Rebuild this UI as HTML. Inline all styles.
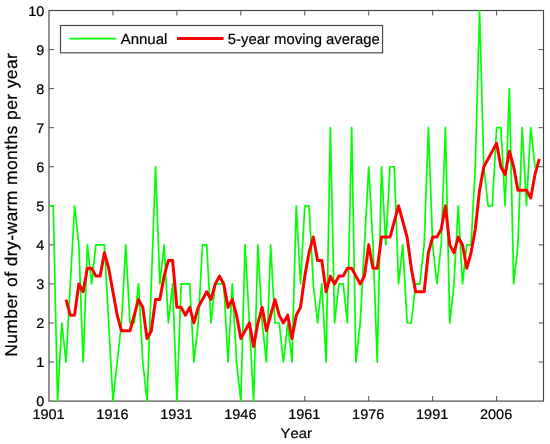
<!DOCTYPE html>
<html><head><meta charset="utf-8"><title>Dry-warm months per year</title>
<style>html,body{margin:0;padding:0;background:#fff}svg{display:block}text{font-family:"Liberation Sans",Arial,Helvetica,sans-serif;fill:#000;stroke:#000;stroke-width:0.2px;font-kerning:none;text-rendering:geometricPrecision}</style></head><body>
<svg width="550" height="444" viewBox="0 0 550 444">
<rect width="550" height="444" fill="#fff"/>
<g stroke="#444" stroke-width="1.15" fill="none">
<rect x="49.00" y="10.50" width="494.50" height="390.60"/>
<path stroke-width="1" stroke="#505050" d="M112.94 401.10v-5.00M112.94 10.50v5.00M176.89 401.10v-5.00M176.89 10.50v5.00M240.83 401.10v-5.00M240.83 10.50v5.00M304.78 401.10v-5.00M304.78 10.50v5.00M368.72 401.10v-5.00M368.72 10.50v5.00M432.66 401.10v-5.00M432.66 10.50v5.00M496.61 401.10v-5.00M496.61 10.50v5.00M49.00 362.04h5.00M543.50 362.04h-5.00M49.00 322.98h5.00M543.50 322.98h-5.00M49.00 283.92h5.00M543.50 283.92h-5.00M49.00 244.86h5.00M543.50 244.86h-5.00M49.00 205.80h5.00M543.50 205.80h-5.00M49.00 166.74h5.00M543.50 166.74h-5.00M49.00 127.68h5.00M543.50 127.68h-5.00M49.00 88.62h5.00M543.50 88.62h-5.00M49.00 49.56h5.00M543.50 49.56h-5.00"/>
</g>
<polyline points="49.00,205.80 53.26,205.80 57.53,401.10 61.79,322.98 66.05,362.04 70.31,283.92 74.58,205.80 78.84,244.86 83.10,362.04 87.37,244.86 91.63,283.92 95.89,244.86 100.16,244.86 104.42,244.86 108.68,322.98 112.94,401.10 117.21,362.04 121.47,322.98 125.73,244.86 130.00,322.98 134.26,322.98 138.52,283.92 142.78,362.04 147.05,401.10 151.31,283.92 155.57,166.74 159.84,283.92 164.10,244.86 168.36,322.98 172.62,283.92 176.89,401.10 181.15,283.92 185.41,283.92 189.68,283.92 193.94,362.04 198.20,322.98 202.47,244.86 206.73,244.86 210.99,322.98 215.25,283.92 219.52,283.92 223.78,283.92 228.04,362.04 232.31,283.92 236.57,362.04 240.83,401.10 245.09,244.86 249.36,322.98 253.62,401.10 257.88,244.86 262.15,322.98 266.41,362.04 270.67,244.86 274.94,322.98 279.20,322.98 283.46,362.04 287.72,322.98 291.99,362.04 296.25,205.80 300.51,283.92 304.78,205.80 309.04,205.80 313.30,283.92 317.56,322.98 321.83,283.92 326.09,362.04 330.35,127.68 334.62,322.98 338.88,283.92 343.14,283.92 347.41,322.98 351.67,127.68 355.93,362.04 360.19,322.98 364.46,244.86 368.72,166.74 372.98,244.86 377.25,362.04 381.51,166.74 385.77,244.86 390.03,166.74 394.30,166.74 398.56,283.92 402.82,244.86 407.09,322.98 411.35,322.98 415.61,283.92 419.88,283.92 424.14,244.86 428.40,127.68 432.66,244.86 436.93,283.92 441.19,244.86 445.45,127.68 449.72,322.98 453.98,283.92 458.24,205.80 462.50,283.92 466.77,244.86 471.03,244.86 475.29,166.74 479.56,10.50 483.82,166.74 488.08,205.80 492.34,205.80 496.61,127.68 500.87,127.68 505.13,205.80 509.40,88.62 513.66,283.92 517.92,244.86 522.19,127.68 526.45,205.80 530.71,127.68 534.97,166.74 539.24,166.74" fill="none" stroke="#00ff00" stroke-width="1.7" stroke-linejoin="round"/>
<polyline points="66.05,299.54 70.31,315.17 74.58,315.17 78.84,283.92 83.10,291.73 87.37,268.30 91.63,268.30 95.89,276.11 100.16,276.11 104.42,252.67 108.68,268.30 112.94,291.73 117.21,315.17 121.47,330.79 125.73,330.79 130.00,330.79 134.26,315.17 138.52,299.54 142.78,307.36 147.05,338.60 151.31,330.79 155.57,299.54 159.84,299.54 164.10,276.11 168.36,260.48 172.62,260.48 176.89,307.36 181.15,307.36 185.41,315.17 189.68,307.36 193.94,322.98 198.20,307.36 202.47,299.54 206.73,291.73 210.99,299.54 215.25,283.92 219.52,276.11 223.78,283.92 228.04,307.36 232.31,299.54 236.57,315.17 240.83,338.60 245.09,330.79 249.36,322.98 253.62,346.42 257.88,322.98 262.15,307.36 266.41,330.79 270.67,315.17 274.94,299.54 279.20,315.17 283.46,322.98 287.72,315.17 291.99,338.60 296.25,315.17 300.51,307.36 304.78,276.11 309.04,252.67 313.30,237.05 317.56,260.48 321.83,260.48 326.09,291.73 330.35,276.11 334.62,283.92 338.88,276.11 343.14,276.11 347.41,268.30 351.67,268.30 355.93,276.11 360.19,283.92 364.46,276.11 368.72,244.86 372.98,268.30 377.25,268.30 381.51,237.05 385.77,237.05 390.03,237.05 394.30,221.42 398.56,205.80 402.82,221.42 407.09,237.05 411.35,268.30 415.61,291.73 419.88,291.73 424.14,291.73 428.40,252.67 432.66,237.05 436.93,237.05 441.19,229.24 445.45,205.80 449.72,244.86 453.98,252.67 458.24,237.05 462.50,244.86 466.77,268.30 471.03,252.67 475.29,229.24 479.56,190.18 483.82,166.74 488.08,158.93 492.34,151.12 496.61,143.30 500.87,166.74 505.13,174.55 509.40,151.12 513.66,166.74 517.92,190.18 522.19,190.18 526.45,190.18 530.71,197.99 534.97,174.55 539.24,158.93" fill="none" stroke="#ff0000" stroke-width="3" stroke-linejoin="round"/>
<g font-size="14">
<text transform="translate(48.50,419.4) scale(1.035,1)" text-anchor="middle">1901</text>
<text transform="translate(112.44,419.4) scale(1.035,1)" text-anchor="middle">1916</text>
<text transform="translate(176.39,419.4) scale(1.035,1)" text-anchor="middle">1931</text>
<text transform="translate(240.33,419.4) scale(1.035,1)" text-anchor="middle">1946</text>
<text transform="translate(304.28,419.4) scale(1.035,1)" text-anchor="middle">1961</text>
<text transform="translate(368.22,419.4) scale(1.035,1)" text-anchor="middle">1976</text>
<text transform="translate(432.16,419.4) scale(1.035,1)" text-anchor="middle">1991</text>
<text transform="translate(496.11,419.4) scale(1.035,1)" text-anchor="middle">2006</text>
<text transform="translate(44.3,406.20) scale(1.03,1)" text-anchor="end">0</text>
<text transform="translate(44.3,367.14) scale(1.03,1)" text-anchor="end">1</text>
<text transform="translate(44.3,328.08) scale(1.03,1)" text-anchor="end">2</text>
<text transform="translate(44.3,289.02) scale(1.03,1)" text-anchor="end">3</text>
<text transform="translate(44.3,249.96) scale(1.03,1)" text-anchor="end">4</text>
<text transform="translate(44.3,210.90) scale(1.03,1)" text-anchor="end">5</text>
<text transform="translate(44.3,171.84) scale(1.03,1)" text-anchor="end">6</text>
<text transform="translate(44.3,132.78) scale(1.03,1)" text-anchor="end">7</text>
<text transform="translate(44.3,93.72) scale(1.03,1)" text-anchor="end">8</text>
<text transform="translate(44.3,54.66) scale(1.03,1)" text-anchor="end">9</text>
<text transform="translate(44.3,15.60) scale(1.03,1)" text-anchor="end">10</text>
</g>
<text transform="translate(296.2,438.2) scale(1.06,1)" font-size="14" text-anchor="middle">Year</text>
<text transform="translate(16.8,356.8) rotate(-90) scale(1.02,1)" font-size="17.2" letter-spacing="0.37">Number of dry-warm months per year</text>
<rect x="60.5" y="25.5" width="322.1" height="27.3" fill="#fff" stroke="#444" stroke-width="1.15"/>
<path d="M69.4 38.7H116.1" stroke="#00ff00" stroke-width="1.7" fill="none"/>
<path d="M177 38.6H223.6" stroke="#ff0000" stroke-width="3" fill="none"/>
<text transform="translate(120.7,44.3) scale(1.02,1)" font-size="14.7">Annual</text>
<text transform="translate(227.8,44.3) scale(1.012,1)" font-size="14.7">5-year moving average</text>
</svg></body></html>
